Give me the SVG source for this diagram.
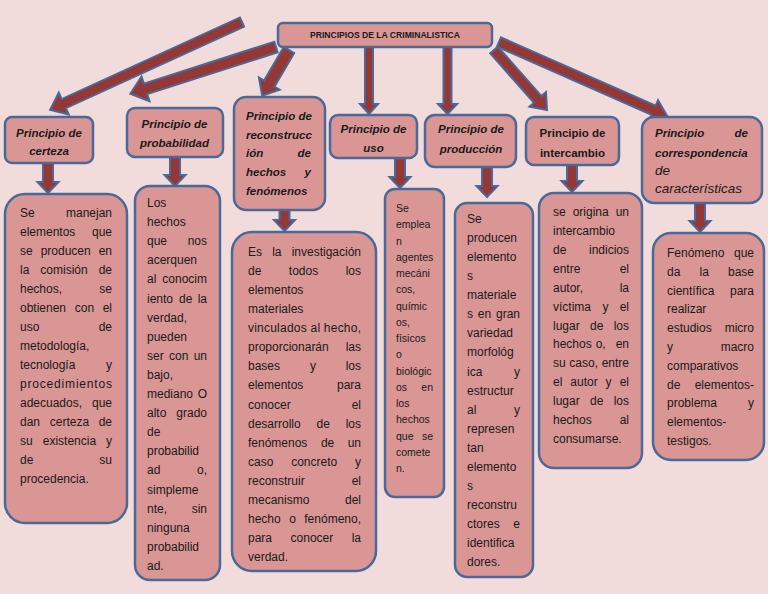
<svg xmlns="http://www.w3.org/2000/svg" width="768" height="594" viewBox="0 0 768 594">
<style>
.bx{fill:#d99694;stroke:#4a6898;stroke-width:2.5}
.ar{fill:#953735;stroke:#4a6898;stroke-width:2;stroke-linejoin:miter}
.t{font-family:"Liberation Sans",Arial,sans-serif;font-size:11.5px;font-weight:bold;font-style:italic;fill:#1a1a1a}
.tn{font-style:normal}
.ti{font-family:"Liberation Sans",Arial,sans-serif;font-size:13.5px;font-style:italic;fill:#1a1a1a}
.h{font-family:"Liberation Sans",Arial,sans-serif;font-size:8.6px;font-weight:bold;fill:#1a1a1a}
.c{font-family:"Liberation Sans",Arial,sans-serif;font-size:12px;fill:#1a1a1a}
.s{font-size:10.5px}
.m{text-anchor:middle}
.e{text-anchor:end}
</style>
<rect width="768" height="594" fill="#f2dcdb"/>
<g id="connectors">
<polygon class="ar" transform="translate(242,22) rotate(155.4)" points="0,-5 196,-5 196,-12 211,0 196,12 196,5 0,5"/>
<polygon class="ar" transform="translate(276,47) rotate(162.2)" points="0,-5.5 137,-5.5 137,-13 153,0 137,13 137,5.5 0,5.5"/>
<polygon class="ar" transform="translate(289,50) rotate(120.4)" points="0,-6 39,-6 39,-12 53,0 39,12 39,6 0,6"/>
<polygon class="ar" points="365,47 373,47 373,104 378,104 369,114 360,104 365,104"/>
<polygon class="ar" points="443.5,47 451.5,47 451.5,104 457,104 447.5,114 438,104 443.5,104"/>
<polygon class="ar" transform="translate(494,50) rotate(48.5)" points="0,-5 66,-5 66,-11 80,0 66,11 66,5 0,5"/>
<polygon class="ar" transform="translate(499,42) rotate(23.8)" points="0,-5 169,-5 169,-11 184,0 169,11 169,5 0,5"/>
<polygon class="ar" points="43,163 53,163 53,182 58.5,182 48,193 37.5,182 43,182"/>
<polygon class="ar" points="170,157 180,157 180,175 185.5,175 175,186 164.5,175 170,175"/>
<polygon class="ar" points="279.5,210 289.5,210 289.5,220 295,220 284.5,231 274,220 279.5,220"/>
<polygon class="ar" points="395,158 405,158 405,177 410.5,177 400,188 389.5,177 395,177"/>
<polygon class="ar" points="482,167 492,167 492,186 497.5,186 487,197 476.5,186 482,186"/>
<polygon class="ar" points="567,165 577,165 577,181 582.5,181 572,192 561.5,181 567,181"/>
<polygon class="ar" points="695,203 705,203 705,221 710.5,221 700,232 689.5,221 695,221"/>
</g>
<g id="root">
<rect class="bx" x="278" y="23" width="214" height="24" rx="5"/>
<text class="h m" x="385" y="37.5">PRINCIPIOS DE LA CRIMINALISTICA</text>
</g>
<g id="certeza">
<rect class="bx" x="5" y="117" width="88" height="46" rx="7"/>
<text class="t m" x="49" y="136.7">Principio de</text>
<text class="t m" x="49" y="155">certeza</text>
</g>
<g id="probabilidad">
<rect class="bx" x="127" y="108" width="96" height="49" rx="8"/>
<text class="t m" x="174.5" y="128">Principio de</text>
<text class="t m" x="174.5" y="147">probabilidad</text>
</g>
<g id="reconstruccion">
<rect class="bx" x="234" y="97" width="91" height="113" rx="12"/>
<text class="t" x="246" y="120">Principio de</text>
<text class="t" x="246" y="138.5">reconstrucc</text>
<text class="t" y="157"><tspan x="246">ión</tspan><tspan class="e" x="311">de</tspan></text>
<text class="t" y="176"><tspan x="246">hechos</tspan><tspan class="e" x="311">y</tspan></text>
<text class="t" x="246" y="195">fenómenos</text>
</g>
<g id="uso">
<rect class="bx" x="330" y="115" width="87" height="43" rx="8"/>
<text class="t m" x="373.5" y="133">Principio de</text>
<text class="t m" x="373.5" y="152">uso</text>
</g>
<g id="produccion">
<rect class="bx" x="425" y="115" width="91" height="52" rx="10"/>
<text class="t m" x="471" y="133">Principio de</text>
<text class="t m" x="471" y="153">producción</text>
</g>
<g id="intercambio">
<rect class="bx" x="526" y="117" width="93" height="48" rx="8"/>
<text class="t tn m" x="572.5" y="137">Principio de</text>
<text class="t tn m" x="572.5" y="157">intercambio</text>
</g>
<g id="correspondencia">
<rect class="bx" x="642" y="117" width="120" height="86" rx="12"/>
<text class="t" y="137"><tspan x="655">Principio</tspan><tspan class="e" x="748">de</tspan></text>
<text class="t" x="655" y="157">correspondencia</text>
<text class="ti" x="655" y="175">de</text>
<text class="ti" x="655" y="193">características</text>
</g>
<g id="certeza-texto">
<rect class="bx" x="5" y="194" width="122" height="329" rx="20"/>
<text class="c" y="217"><tspan x="20">Se</tspan><tspan class="e" x="112">manejan</tspan></text>
<text class="c" y="236"><tspan x="20">elementos</tspan><tspan class="e" x="112">que</tspan></text>
<text class="c" y="255"><tspan x="20">se</tspan><tspan class="m" x="65.7">producen</tspan><tspan class="e" x="112">en</tspan></text>
<text class="c" y="274"><tspan x="20">la</tspan><tspan class="m" x="64">comisión</tspan><tspan class="e" x="112">de</tspan></text>
<text class="c" y="293"><tspan x="20">hechos,</tspan><tspan class="e" x="112">se</tspan></text>
<text class="c" y="312"><tspan x="20">obtienen</tspan><tspan class="m" x="84.4">con</tspan><tspan class="e" x="112">el</tspan></text>
<text class="c" y="331"><tspan x="20">uso</tspan><tspan class="e" x="112">de</tspan></text>
<text class="c" x="20" y="350">metodología,</text>
<text class="c" y="369"><tspan x="20">tecnología</tspan><tspan class="e" x="112">y</tspan></text>
<text class="c" x="20" y="388" textLength="92" lengthAdjust="spacing">procedimientos</text>
<text class="c" y="407"><tspan x="20">adecuados,</tspan><tspan class="e" x="112">que</tspan></text>
<text class="c" y="426"><tspan x="20">dan</tspan><tspan class="m" x="69.4">certeza</tspan><tspan class="e" x="112">de</tspan></text>
<text class="c" y="445"><tspan x="20">su</tspan><tspan class="m" x="69.4">existencia</tspan><tspan class="e" x="112">y</tspan></text>
<text class="c" y="464"><tspan x="20">de</tspan><tspan class="e" x="112">su</tspan></text>
<text class="c" x="20" y="483">procedencia.</text>
</g>
<g id="probabilidad-texto">
<rect class="bx" x="135" y="186" width="85" height="394" rx="15"/>
<text class="c" x="147" y="207">Los</text>
<text class="c" x="147" y="226.1">hechos</text>
<text class="c" y="245.2"><tspan x="147">que</tspan><tspan class="e" x="207">nos</tspan></text>
<text class="c" x="147" y="264.3">acerquen</text>
<text class="c" y="283.4"><tspan x="147">al</tspan><tspan class="e" x="207">conocim</tspan></text>
<text class="c" y="302.5"><tspan x="147">iento</tspan><tspan class="m" x="185.8">de</tspan><tspan class="e" x="207">la</tspan></text>
<text class="c" x="147" y="321.6">verdad,</text>
<text class="c" x="147" y="340.7">pueden</text>
<text class="c" y="359.8"><tspan x="147">ser</tspan><tspan class="m" x="178.7">con</tspan><tspan class="e" x="207">un</tspan></text>
<text class="c" x="147" y="378.9">bajo,</text>
<text class="c" y="398"><tspan x="147">mediano</tspan><tspan class="e" x="207">O</tspan></text>
<text class="c" y="417.1"><tspan x="147">alto</tspan><tspan class="e" x="207">grado</tspan></text>
<text class="c" x="147" y="436.2">de</text>
<text class="c" x="147" y="455.3">probabilid</text>
<text class="c" y="474.4"><tspan x="147">ad</tspan><tspan class="e" x="207">o,</tspan></text>
<text class="c" x="147" y="493.5">simpleme</text>
<text class="c" y="512.6"><tspan x="147">nte,</tspan><tspan class="e" x="207">sin</tspan></text>
<text class="c" x="147" y="531.7">ninguna</text>
<text class="c" x="147" y="550.8">probabilid</text>
<text class="c" x="147" y="569.9">ad.</text>
</g>
<g id="reconstruccion-texto">
<rect class="bx" x="232" y="232" width="144" height="339" rx="20"/>
<text class="c" y="256"><tspan x="248">Es</tspan><tspan class="m" x="276.8">la</tspan><tspan class="e" x="361">investigación</tspan></text>
<text class="c" y="275.1"><tspan x="248">de</tspan><tspan class="m" x="303.5">todos</tspan><tspan class="e" x="361">los</tspan></text>
<text class="c" x="248" y="294.1">elementos</text>
<text class="c" x="248" y="313.2">materiales</text>
<text class="c" x="248" y="332.2" textLength="113" lengthAdjust="spacing">vinculados al hecho,</text>
<text class="c" y="351.3"><tspan x="248">proporcionarán</tspan><tspan class="e" x="361">las</tspan></text>
<text class="c" y="370.4"><tspan x="248">bases</tspan><tspan class="m" x="312.9">y</tspan><tspan class="e" x="361">los</tspan></text>
<text class="c" y="389.4"><tspan x="248">elementos</tspan><tspan class="e" x="361">para</tspan></text>
<text class="c" y="408.5"><tspan x="248">conocer</tspan><tspan class="e" x="361">el</tspan></text>
<text class="c" y="427.5"><tspan x="248">desarrollo</tspan><tspan class="m" x="323.2">de</tspan><tspan class="e" x="361">los</tspan></text>
<text class="c" y="446.6"><tspan x="248">fenómenos</tspan><tspan class="m" x="327.6">de</tspan><tspan class="e" x="361">un</tspan></text>
<text class="c" y="465.7"><tspan x="248">caso</tspan><tspan class="m" x="314.2">concreto</tspan><tspan class="e" x="361">y</tspan></text>
<text class="c" y="484.7"><tspan x="248">reconstruir</tspan><tspan class="e" x="361">el</tspan></text>
<text class="c" y="503.8"><tspan x="248">mecanismo</tspan><tspan class="e" x="361">del</tspan></text>
<text class="c" y="522.8"><tspan x="248">hecho</tspan><tspan class="m" x="292.5">o</tspan><tspan class="e" x="361">fenómeno,</tspan></text>
<text class="c" y="541.9"><tspan x="248">para</tspan><tspan class="m" x="311.9">conocer</tspan><tspan class="e" x="361">la</tspan></text>
<text class="c" x="248" y="561">verdad.</text>
</g>
<g id="uso-texto">
<rect class="bx" x="385" y="189" width="59" height="308" rx="10"/>
<text class="c s" x="396" y="212">Se</text>
<text class="c s" x="396" y="228.3">emplea</text>
<text class="c s" x="396" y="244.5">n</text>
<text class="c s" x="396" y="260.8">agentes</text>
<text class="c s" x="396" y="277">mecáni</text>
<text class="c s" x="396" y="293.3">cos,</text>
<text class="c s" x="396" y="309.5">químic</text>
<text class="c s" x="396" y="325.8">os,</text>
<text class="c s" x="396" y="342">físicos</text>
<text class="c s" x="396" y="358.3">o</text>
<text class="c s" x="396" y="374.5">biológic</text>
<text class="c s" y="390.8"><tspan x="396">os</tspan><tspan class="e" x="433">en</tspan></text>
<text class="c s" x="396" y="407">los</text>
<text class="c s" x="396" y="423.3">hechos</text>
<text class="c s" y="439.5"><tspan x="396">que</tspan><tspan class="e" x="433">se</tspan></text>
<text class="c s" x="396" y="455.8">comete</text>
<text class="c s" x="396" y="472">n.</text>
</g>
<g id="produccion-texto">
<rect class="bx" x="455" y="203" width="78" height="374" rx="12"/>
<text class="c" x="467" y="223">Se</text>
<text class="c" x="467" y="242.1">producen</text>
<text class="c" x="467" y="261.1">elemento</text>
<text class="c" x="467" y="280.2">s</text>
<text class="c" x="467" y="299.2">materiale</text>
<text class="c" y="318.3"><tspan x="467">s</tspan><tspan class="m" x="484.5">en</tspan><tspan class="e" x="520">gran</tspan></text>
<text class="c" x="467" y="337.4">variedad</text>
<text class="c" x="467" y="356.4">morfológ</text>
<text class="c" y="375.5"><tspan x="467">ica</tspan><tspan class="e" x="520">y</tspan></text>
<text class="c" x="467" y="394.5">estructur</text>
<text class="c" y="413.6"><tspan x="467">al</tspan><tspan class="e" x="520">y</tspan></text>
<text class="c" x="467" y="432.7">represen</text>
<text class="c" x="467" y="451.7">tan</text>
<text class="c" x="467" y="470.8">elemento</text>
<text class="c" x="467" y="489.8">s</text>
<text class="c" x="467" y="508.9">reconstru</text>
<text class="c" y="528"><tspan x="467">ctores</tspan><tspan class="e" x="520">e</tspan></text>
<text class="c" x="467" y="547">identifica</text>
<text class="c" x="467" y="566">dores.</text>
</g>
<g id="intercambio-texto">
<rect class="bx" x="539" y="193" width="103" height="275" rx="15"/>
<text class="c" y="216"><tspan x="553">se</tspan><tspan class="m" x="590.7">origina</tspan><tspan class="e" x="629">un</tspan></text>
<text class="c" x="553" y="234.9">intercambio</text>
<text class="c" y="253.8"><tspan x="553">de</tspan><tspan class="e" x="629">indicios</tspan></text>
<text class="c" y="272.8"><tspan x="553">entre</tspan><tspan class="e" x="629">el</tspan></text>
<text class="c" y="291.7"><tspan x="553">autor,</tspan><tspan class="e" x="629">la</tspan></text>
<text class="c" y="310.6"><tspan x="553">víctima</tspan><tspan class="m" x="605.4">y</tspan><tspan class="e" x="629">el</tspan></text>
<text class="c" y="329.5"><tspan x="553">lugar</tspan><tspan class="m" x="596.7">de</tspan><tspan class="e" x="629">los</tspan></text>
<text class="c" y="348.4"><tspan x="553">hechos</tspan><tspan class="m" x="600.7">o,</tspan><tspan class="e" x="629">en</tspan></text>
<text class="c" y="367.4"><tspan x="553">su</tspan><tspan class="m" x="583.7">caso,</tspan><tspan class="e" x="629">entre</tspan></text>
<text class="c" y="386.3"><tspan x="553">el</tspan><tspan class="m" x="584">autor</tspan><tspan class="m" x="608.6">y</tspan><tspan class="e" x="629">el</tspan></text>
<text class="c" y="405.2"><tspan x="553">lugar</tspan><tspan class="m" x="596.7">de</tspan><tspan class="e" x="629">los</tspan></text>
<text class="c" y="424.1"><tspan x="553">hechos</tspan><tspan class="e" x="629">al</tspan></text>
<text class="c" x="553" y="443">consumarse.</text>
</g>
<g id="correspondencia-texto">
<rect class="bx" x="653" y="233" width="111" height="227" rx="18"/>
<text class="c" y="257"><tspan x="667">Fenómeno</tspan><tspan class="e" x="754">que</tspan></text>
<text class="c" y="275.8"><tspan x="667">da</tspan><tspan class="m" x="704.2">la</tspan><tspan class="e" x="754">base</tspan></text>
<text class="c" y="294.6"><tspan x="667">científica</tspan><tspan class="e" x="754">para</tspan></text>
<text class="c" x="667" y="313.4">realizar</text>
<text class="c" y="332.2"><tspan x="667">estudios</tspan><tspan class="e" x="754">micro</tspan></text>
<text class="c" y="351"><tspan x="667">y</tspan><tspan class="e" x="754">macro</tspan></text>
<text class="c" x="667" y="369.8">comparativos</text>
<text class="c" y="388.6"><tspan x="667">de</tspan><tspan class="e" x="754">elementos-</tspan></text>
<text class="c" y="407.4"><tspan x="667">problema</tspan><tspan class="e" x="754">y</tspan></text>
<text class="c" x="667" y="426.2">elementos-</text>
<text class="c" x="667" y="445">testigos.</text>
</g>
</svg>
